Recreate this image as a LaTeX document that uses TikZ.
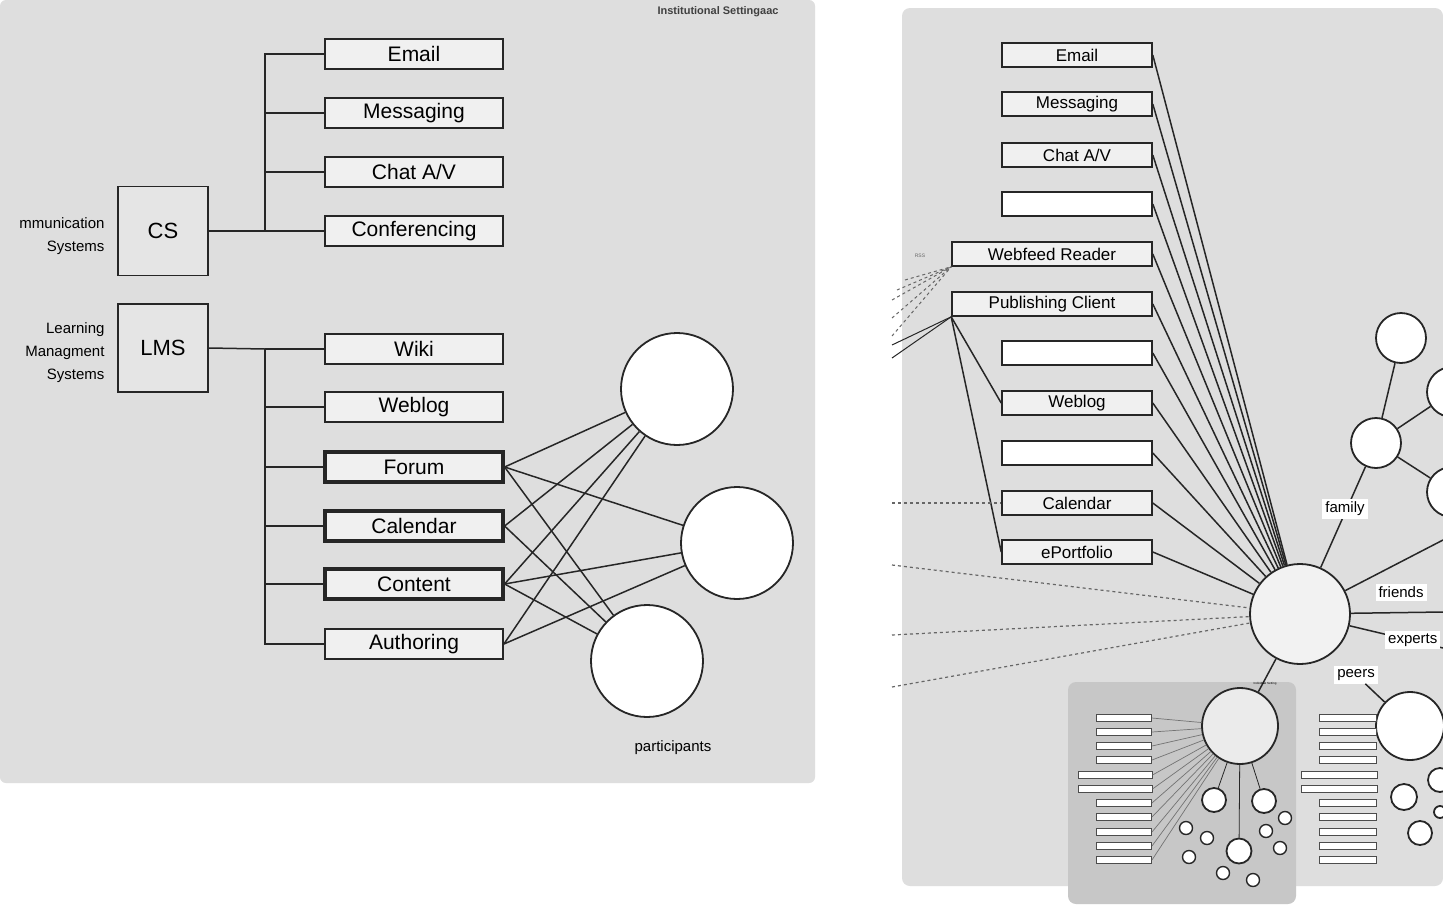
\documentclass[tikz,border=0pt]{standalone}
\usepackage{fontspec}
\setmainfont{Liberation Sans}
\begin{document}
\begin{tikzpicture}[x=1pt,y=-1pt,
 bx/.style={draw=black!85,line width=1.8pt,fill=black!6,minimum height=30pt,font=\fontsize{21}{22}\selectfont,inner sep=0pt,anchor=center},
 bbx/.style={bx,line width=3.2pt},
 rb/.style={draw=black!85,line width=1.6pt,fill=black!6,minimum height=24pt,font=\fontsize{17}{18}\selectfont,inner sep=0pt},
 wb/.style={rb,fill=white},
 sb/.style={draw=black!70,line width=0.9pt,fill=white,minimum height=7pt,inner sep=0pt},
 circ/.style={circle,draw=black!85,line width=1.8pt,fill=white,inner sep=0pt},
 ln/.style={draw=black!85,line width=1.5pt},
 dl/.style={draw=black!60,dashed,line width=1.2pt},
 lab/.style={fill=white,font=\fontsize{15}{16}\selectfont,inner sep=3pt}]
\useasboundingbox (0,0) rectangle (1443,919);
\fill[white] (0,0) rectangle (1443,919);
% left panel
\fill[black!13,rounded corners=6pt] (0,0) rectangle (815,783);
\node[font=\bfseries\fontsize{11}{12}\selectfont,text=black!75] (inst) at (718,12) {Institutional Settingaac};
\node[draw=black!85,line width=1.8pt,fill=black!10,minimum width=90pt,minimum height=89pt,font=\fontsize{22}{24}\selectfont] (cs) at (163,231) {CS};
\node[draw=black!85,line width=1.8pt,fill=black!10,minimum width=90pt,minimum height=88pt,font=\fontsize{22}{24}\selectfont] (lms) at (163,348) {LMS};
\node[align=right,anchor=east,font=\fontsize{15}{23}\selectfont] (csl) at (108,236) {mmunication\\Systems};
\node[align=right,anchor=east,font=\fontsize{15}{23}\selectfont] (lmsl) at (108,353) {Learning\\Managment\\Systems};
\foreach \n/\t/\y/\s in {em/Email/54/bx,me/Messaging/113/bx,ch/{Chat A/V}/172/bx,co/Conferencing/231/bx,wi/Wiki/349/bx,we/Weblog/407/bx,fo/Forum/467/bbx,ca/Calendar/526/bbx,ct/Content/584/bbx,au/Authoring/644/bx}
  \node[\s,minimum width=178pt] (\n) at (414,\y) {\t};
\coordinate (j1) at (265,231); \coordinate (j2) at (265,349);
\draw[ln,line width=2.6pt] (cs.east) -- (j1);
\draw[ln] (lms.east) -- (j2);
\foreach \n in {em,me,ch,co} \draw[ln] (j1) |- (\n.west);
\foreach \n in {wi,we,fo,ca,ct,au} \draw[ln] (j2) |- (\n.west);
\node[circ,minimum size=112pt] (p1) at (677,389) {};
\node[circ,minimum size=112pt] (p2) at (737,543) {};
\node[circ,minimum size=112pt] (p3) at (647,661) {};
\foreach \a/\b in {fo/p1,fo/p2,fo/p3,ca/p1,ca/p3,ct/p1,ct/p2,ct/p3,au/p1,au/p2}
  \draw[ln] (\a.east) -- (\b);
\node[font=\fontsize{15}{17}\selectfont] (part) at (673,748) {participants};
% right panel
\fill[black!13,rounded corners=8pt] (902,8) rectangle (1443,886);
\fill[black!22,rounded corners=8pt] (1068,682) rectangle (1296,904);
\node[circ,fill=black!5,minimum size=100pt] (mc) at (1300,614) {};
\foreach \n/\t/\y/\s in {rem/Email/55/rb,rme/Messaging/104/rb,rch/{Chat A/V}/155/rb,rb1//204/wb,rb2//353/wb,rwe/Weblog/403/rb,rb3//453/wb,rca/Calendar/503/rb,rep/ePortfolio/552/rb}
  \node[\s,minimum width=150pt] (\n) at (1077,\y) {\t};
\node[rb,minimum width=200pt] (rwf) at (1052,254) {Webfeed Reader};
\node[rb,minimum width=200pt] (rpc) at (1052,304) {Publishing Client};
\foreach \n in {rem,rme,rch,rb1,rwf,rpc,rb2,rwe,rb3,rca,rep} \draw[ln] (\n.east) -- (mc);
\draw[ln] (rpc.south west) -- (rwe.west);
\draw[ln] (rpc.south west) -- (rep.west);
\node[font=\fontsize{5}{6}\selectfont,text=black!60] (rss) at (920,256) {RSS};
\foreach \p in {(892,300),(892,318),(892,336),(897,290),(905,280)} \draw[dl,line width=1pt] \p -- (rwf.south west);
\draw[ln,line width=1pt] (892,345) -- (rpc.south west);
\draw[ln,line width=1pt] (892,358) -- (rpc.south west);
\draw[dl] (892,503) -- (rca.west);
\foreach \y in {565,635,687} \draw[dl] (892,\y) -- (mc);
% social
\node[circ,minimum size=50pt] (fa) at (1376,443) {};
\node[circ,minimum size=50pt] (f2) at (1401,338) {};
\node[circ,minimum size=50pt] (f3) at (1452,392) {};
\node[circ,minimum size=50pt] (f4) at (1452,492) {};
\draw[ln] (mc) -- (fa); \draw[ln] (fa) -- (f2); \draw[ln] (fa) -- (f3); \draw[ln] (fa) -- (f4);
\draw[ln] (mc) -- (1443,540); \draw[ln] (mc) -- (1443,612); \draw[ln] (mc) -- (1443,648);
\node[lab] (lf) at (1345,509) {family};
\node[lab] (lfr) at (1401,592) {friends};
\node[lab,anchor=west] (lex) at (1385,640) {experts};
\node[lab] (lpe) at (1356,675) {peers};
\node[circ,minimum size=68pt] (pe) at (1410,726) {};
\draw[ln] (lpe) -- (pe);
% inner
\node[circ,fill=black!8,minimum size=76pt] (ic) at (1240,726) {};
\draw[ln] (mc) -- (ic);
\node[font=\fontsize{3}{4}\selectfont] (itit) at (1265,684) {Individual Setting};
\foreach \i/\y in {1/718,2/732,3/746,4/760,7/803,8/817,9/832,10/846,11/860}
  \node[sb,minimum width=55pt] (s\i) at (1124,\y) {};
\node[sb,minimum width=74pt] (s5) at (1115,775) {};
\node[sb,minimum width=74pt] (s6) at (1115,789) {};
\foreach \i in {1,...,11} \draw[ln,line width=0.7pt,draw=black!55] (s\i.east) -- (ic);
\foreach \i/\y in {1/718,2/732,3/746,4/760,7/803,8/817,9/832,10/846,11/860}
  \node[sb,minimum width=57pt] (t\i) at (1348,\y) {};
\node[sb,minimum width=76pt] (t5) at (1339,775) {};
\node[sb,minimum width=76pt] (t6) at (1339,789) {};
\node[circ,minimum size=24pt] (c1) at (1214,800) {};
\node[circ,minimum size=24pt] (c2) at (1264,801) {};
\node[circ,minimum size=25pt] (c3) at (1239,851) {};
\foreach \c in {c1,c2,c3} \draw[ln,line width=0.8pt] (ic) -- (\c);
\foreach \p/\k in {{(1186,828)}/a,{(1207,838)}/b,{(1189,857)}/c,{(1223,873)}/d,{(1253,880)}/e,{(1285,818)}/f,{(1266,831)}/g,{(1280,848)}/h}
  \node[circ,line width=1.4pt,minimum size=13pt] (d\k) at \p {};
\node[circ,minimum size=26pt] (e1) at (1404,797) {};
\node[circ,minimum size=24pt] (e2) at (1420,833) {};
\node[circ,minimum size=24pt] (e3) at (1440,780) {};
\node[circ,minimum size=12pt] (e4) at (1440,812) {};
\end{tikzpicture}
\end{document}
